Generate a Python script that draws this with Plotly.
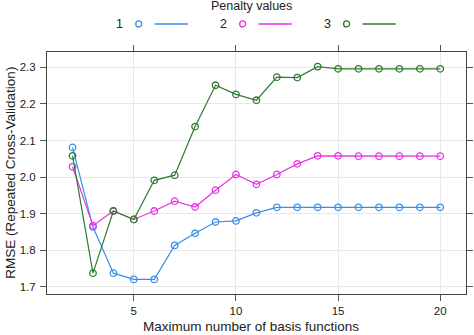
import plotly.graph_objects as go

x_vals = list(range(2, 21))
penalty_labels = ["1", "2", "3"]
rmse_p1 = [2.081, 1.863, 1.737, 1.720, 1.720, 1.813, 1.846, 1.877, 1.880, 1.902,
           1.917, 1.917, 1.917, 1.917, 1.917, 1.917, 1.917, 1.917, 1.917]
rmse_p2 = [2.028, 1.867, 1.907, 1.884, 1.907, 1.934, 1.918, 1.964, 2.007, 1.980,
           2.007, 2.036, 2.058, 2.058, 2.057, 2.057, 2.057, 2.057, 2.057]
rmse_p3 = [2.058, 1.737, 1.907, 1.884, 1.991, 2.005, 2.138, 2.251, 2.226, 2.210,
           2.273, 2.272, 2.302, 2.296, 2.296, 2.296, 2.296, 2.296, 2.296]
x_ticks = [5, 10, 15, 20]
y_ticks = [1.7, 1.8, 1.9, 2.0, 2.1, 2.2, 2.3]
x_title = "Maximum number of basis functions"
y_title = "RMSE (Repeated Cross-Validation)"
legend_title = "Penalty values"

colors = ["#3a8ee6", "#e633e6", "#2f7a2f"]
series = [rmse_p1, rmse_p2, rmse_p3]

fig = go.Figure()
for lab, ys, c in zip(penalty_labels, series, colors):
    fig.add_trace(go.Scatter(
        x=x_vals, y=ys, mode="lines+markers", name=lab,
        line=dict(color=c, width=1.2),
        marker=dict(symbol="circle-open", size=6.5, color=c, line=dict(width=1.3, color=c)),
        showlegend=False,
    ))

font = "Liberation Sans, Arial, sans-serif"
axis_common = dict(
    showline=True, linecolor="#444444", linewidth=1, mirror="ticks",
    ticks="outside", ticklen=6, tickcolor="#555555", tickwidth=1,
    showgrid=True, gridcolor="#e8e8e8", gridwidth=1, zeroline=False,
    automargin=False,
    tickfont=dict(family=font, size=11.5, color="#222222"),
)

fig.update_layout(
    width=474, height=335,
    margin=dict(l=47, r=8, t=52, b=41),
    paper_bgcolor="white", plot_bgcolor="white",
    font=dict(family=font, size=12, color="#222222"),
    xaxis=dict(range=[0.75, 21.26], tickvals=x_ticks, **axis_common),
    yaxis=dict(range=[1.68, 2.342], tickvals=y_ticks, tickformat=".1f", ticklabelstandoff=2,
               **axis_common),
)

tfont = dict(family=font, size=13.5, color="#222222")
annotations = [
    dict(text=x_title, x=0.486, y=-0.136, xref="paper", yref="paper",
         xanchor="center", yanchor="middle", showarrow=False, font=tfont),
    dict(text=y_title, x=-0.089, y=0.5, xref="paper", yref="paper", textangle=-90,
         xanchor="center", yanchor="middle", showarrow=False, font=tfont),
    dict(text=legend_title, x=0.489, y=1.19, xref="paper", yref="paper",
         xanchor="center", yanchor="middle",
         showarrow=False, font=dict(family=font, size=12.5, color="#222222")),
]

# custom legend (lattice style: label, point, line)
shapes = []
leg_text_x = [0.174, 0.422, 0.670]
leg_y = 1.116
for lab, c, tx in zip(penalty_labels, colors, leg_text_x):
    annotations.append(dict(text=lab, x=tx, y=leg_y, xref="paper", yref="paper",
                            xanchor="center", yanchor="middle",
                            showarrow=False, font=dict(family=font, size=12.5, color="#222222")))
    cx = tx + 0.045
    shapes.append(dict(type="circle", xref="paper", yref="paper",
                       xsizemode="pixel", ysizemode="pixel", xanchor=cx, yanchor=leg_y,
                       x0=-3, x1=3, y0=-3, y1=3, line=dict(color=c, width=1.3)))
    shapes.append(dict(type="line", xref="paper", yref="paper",
                       x0=tx + 0.083, x1=tx + 0.162, y0=leg_y, y1=leg_y,
                       line=dict(color=c, width=1.5)))
fig.update_layout(annotations=annotations, shapes=shapes)

fig.write_html("out.html")
